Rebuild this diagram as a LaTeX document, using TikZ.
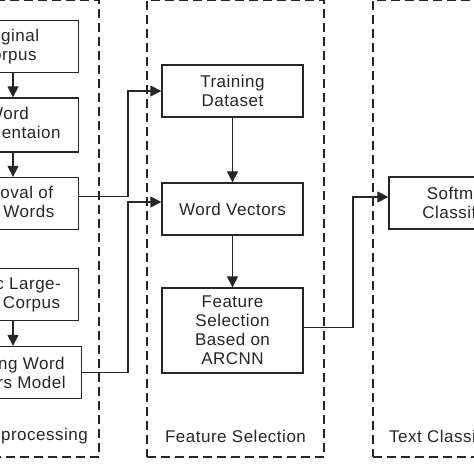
\documentclass[tikz,border=0pt]{standalone}
\usepackage{fontspec}
\setmainfont[LetterSpace=3]{Liberation Sans}
\usetikzlibrary{arrows.meta}

\tikzset{
  stagebox/.style={draw=black!85, line width=1.3pt, fill=white, text=black!85,
    minimum width=141pt, minimum height=52pt, align=center, inner sep=2pt,
    font=\fontsize{17}{19}\selectfont},
  groupbox/.style={draw=black!85, line width=1.3pt, dash pattern=on 9pt off 5pt,
    minimum width=177pt, minimum height=457pt},
  grouplabel/.style={text=black!85, font=\fontsize{17}{19}\selectfont},
  flow/.style={draw=black!85, line width=1.2pt, -{Triangle[length=11pt,width=11pt]}}
}

\begin{document}
\begin{tikzpicture}[x=1pt,y=-1pt]
  %% Column centres and bus lines, in pixels of the figure
  \pgfmathsetmacro{\leftCol}{8}
  \pgfmathsetmacro{\midCol}{232.5}
  \pgfmathsetmacro{\rightCol}{459.5}
  \pgfmathsetmacro{\groupMid}{228.5}
  \pgfmathsetmacro{\labelRow}{436}
  \useasboundingbox (0,0) rectangle (474,474);
  %% Dashed stage groups
  \node[groupbox] (prepGroup) at (10.5,\groupMid) {};
  \node[groupbox] (selGroup) at (235.5,\groupMid) {};
  \node[groupbox] (clsGroup) at (461.5,\groupMid) {};
  \node[grouplabel] (prepLabel) at (11.5,\labelRow) {Text Preprocessing};
  \node[grouplabel] (selLabel) at (235.5,\labelRow) {Feature Selection};
  \node[grouplabel] (clsLabel) at (461.5,\labelRow) {Text Classification};
  %% Preprocessing column
  \node[stagebox] (origCorpus) at (\leftCol,46.5) {Original\\Corpus};
  \node[stagebox, minimum height=54pt] (wordSeg) at (\leftCol,125) {Word\\Segmentaion};
  \node[stagebox] (stopWords) at (\leftCol,203.5) {Removal of\\Stop Words};
  \node[stagebox] (largeCorpus) at (\leftCol,294.5) {Public Large-\\scale Corpus};
  \node[stagebox, minimum width=145pt] (wvModel) at (\leftCol+1,372.5) {Training Word\\Vectors Model};
  %% Feature selection column
  \node[stagebox] (trainSet) at (\midCol,91) {Training\\Dataset};
  \node[stagebox] (wordVec) at (\midCol,209) {Word Vectors};
  \node[stagebox, minimum height=85pt] (arcnn) at (\midCol,330.5) {Feature\\Selection\\Based on\\ARCNN};
  %% Classification column
  \node[stagebox] (softmax) at (\rightCol,203) {Softmax\\Classifier};
  %% Bus lines between the groups
  \coordinate (busA) at (128,0);
  \coordinate (busB) at (353,0);
  %% Connectors
  \draw[flow] ([xshift=5pt]origCorpus.south) -- ([xshift=5pt]wordSeg.north);
  \draw[flow] ([xshift=5pt]wordSeg.south) -- ([xshift=5pt]stopWords.north);
  \draw[flow] ([xshift=5pt]largeCorpus.south) -- ([xshift=4pt]wvModel.north);
  \draw[flow] (trainSet) -- (wordVec);
  \draw[flow] (wordVec) -- (arcnn);
  \draw[flow] ([yshift=7pt]stopWords.east) -| (busA |- trainSet.west) -- (trainSet.west);
  \draw[flow] (wvModel.east) -| ([yshift=7pt]busA |- wordVec.west) -- ([yshift=7pt]wordVec.west);
  \draw[flow] ([yshift=3pt]arcnn.east) -| ([yshift=6pt]busB |- softmax.west) -- ([yshift=6pt]softmax.west);
\end{tikzpicture}
\end{document}
